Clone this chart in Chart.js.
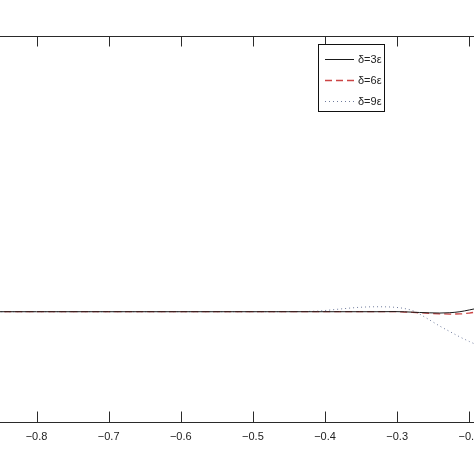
<!DOCTYPE html>
<html>
<head>
<meta charset="utf-8">
<script src="https://cdn.jsdelivr.net/npm/chart.js@4.4.0/dist/chart.umd.min.js"></script>
<style>
  html, body { margin: 0; padding: 0; background: #ffffff; }
  #c { display: block; }
</style>
</head>
<body>
<canvas id="c" width="474" height="474"></canvas>
<script>
// ---- data ----
const xValues = [-0.86, -0.8, -0.7, -0.6, -0.5, -0.45, -0.41, -0.38, -0.352, -0.328, -0.303, -0.29, -0.279, -0.269, -0.255, -0.241, -0.227, -0.213, -0.2, -0.186];
const seriesLabels = ['δ=3ε', 'δ=6ε', 'δ=9ε'];
const delta3 = [0, 0, 0, 0, 0, 0, 0, 0, 0, 0, 0.001, -0.001, -0.004, -0.007, -0.010, -0.012, -0.009, 0.000, 0.016, 0.035];
const delta6 = [0, 0, 0, 0, 0, 0, 0, 0, 0, 0, 0, -0.003, -0.006, -0.010, -0.015, -0.019, -0.021, -0.020, -0.012, 0.002];
const delta9 = [0, 0, 0, 0, 0, 0.001, 0.006, 0.024, 0.040, 0.045, 0.040, 0.029, 0.011, -0.021, -0.075, -0.130, -0.180, -0.229, -0.270, -0.311];
const xTicks = [-0.8, -0.7, -0.6, -0.5, -0.4, -0.3, -0.2];

const FONT = "'Liberation Sans Narrow', 'Liberation Sans', Arial, sans-serif";

function pts(ys) { return xValues.map((x, i) => ({ x: x, y: ys[i] })); }

const framePlugin = {
  id: 'frame',
  afterDraw(chart) {
    const { ctx, chartArea, scales } = chart;
    const x = scales.x;
    ctx.save();
    ctx.strokeStyle = '#2a2a2a';
    ctx.lineWidth = 1;
    ctx.beginPath();
    const top = Math.round(chartArea.top) + 0.5;
    const bot = Math.round(chartArea.bottom) + 0.5;
    ctx.moveTo(0, top); ctx.lineTo(chart.width, top);
    ctx.moveTo(0, bot); ctx.lineTo(chart.width, bot);
    xTicks.forEach(v => {
      const px = Math.round(x.getPixelForValue(v)) + 0.5;
      ctx.moveTo(px, bot); ctx.lineTo(px, bot - 11);
      ctx.moveTo(px, top); ctx.lineTo(px, top + 10);
    });
    ctx.stroke();

    // legend box
    const bx = 318.5, by = 44.5, bw = 66, bh = 67;
    ctx.fillStyle = '#ffffff';
    ctx.fillRect(bx, by, bw, bh);
    ctx.strokeStyle = '#111';
    ctx.strokeRect(bx, by, bw, bh);
    const rows = [59, 80, 101];
    chart.data.datasets.forEach((ds, i) => {
      ctx.save();
      ctx.strokeStyle = ds.borderColor;
      ctx.lineWidth = ds.borderWidth;
      ctx.setLineDash(ds.borderDash || []);
      ctx.beginPath();
      ctx.moveTo(325, rows[i] + 0.5);
      ctx.lineTo(354, rows[i] + 0.5);
      ctx.stroke();
      ctx.restore();
      ctx.fillStyle = '#222';
      ctx.font = '11px ' + FONT;
      ctx.textBaseline = 'middle';
      ctx.textAlign = 'left';
      ctx.fillText(ds.label, 358, rows[i] + 1);
    });
    ctx.restore();
  }
};

new Chart(document.getElementById('c'), {
  type: 'line',
  data: {
    datasets: [
      { label: seriesLabels[0], data: pts(delta3), borderColor: '#1a1a1a', borderWidth: 1, pointRadius: 0, cubicInterpolationMode: 'monotone' },
      { label: seriesLabels[1], data: pts(delta6), borderColor: '#cc4444', borderWidth: 1.3, borderDash: [7, 4], pointRadius: 0, cubicInterpolationMode: 'monotone' },
      { label: seriesLabels[2], data: pts(delta9), borderColor: '#6f7b9c', borderWidth: 1, borderDash: [1, 3], pointRadius: 0, cubicInterpolationMode: 'monotone' }
    ]
  },
  options: {
    responsive: false,
    animation: false,
    events: [],
    layout: { padding: { top: 36, left: 0, right: 0, bottom: 0 } },
    plugins: { legend: { display: false }, tooltip: { enabled: false } },
    scales: {
      x: {
        type: 'linear',
        min: -0.8506,
        max: -0.1935,
        grid: { display: false },
        border: { display: false },
        afterBuildTicks(scale) { scale.ticks = xTicks.map(v => ({ value: v })); },
        afterFit(scale) { scale.height = 52; scale.paddingLeft = 0; scale.paddingRight = 0; },
        ticks: {
          autoSkip: false,
          maxRotation: 0,
          padding: 0,
          color: '#222',
          font: { family: FONT, size: 11 },
          callback: v => (v < 0 ? '\u2212' : '') + Math.abs(v).toFixed(1)
        }
      },
      y: {
        display: false,
        min: -1,
        max: 2.5
      }
    }
  },
  plugins: [framePlugin]
});
</script>
</body>
</html>
